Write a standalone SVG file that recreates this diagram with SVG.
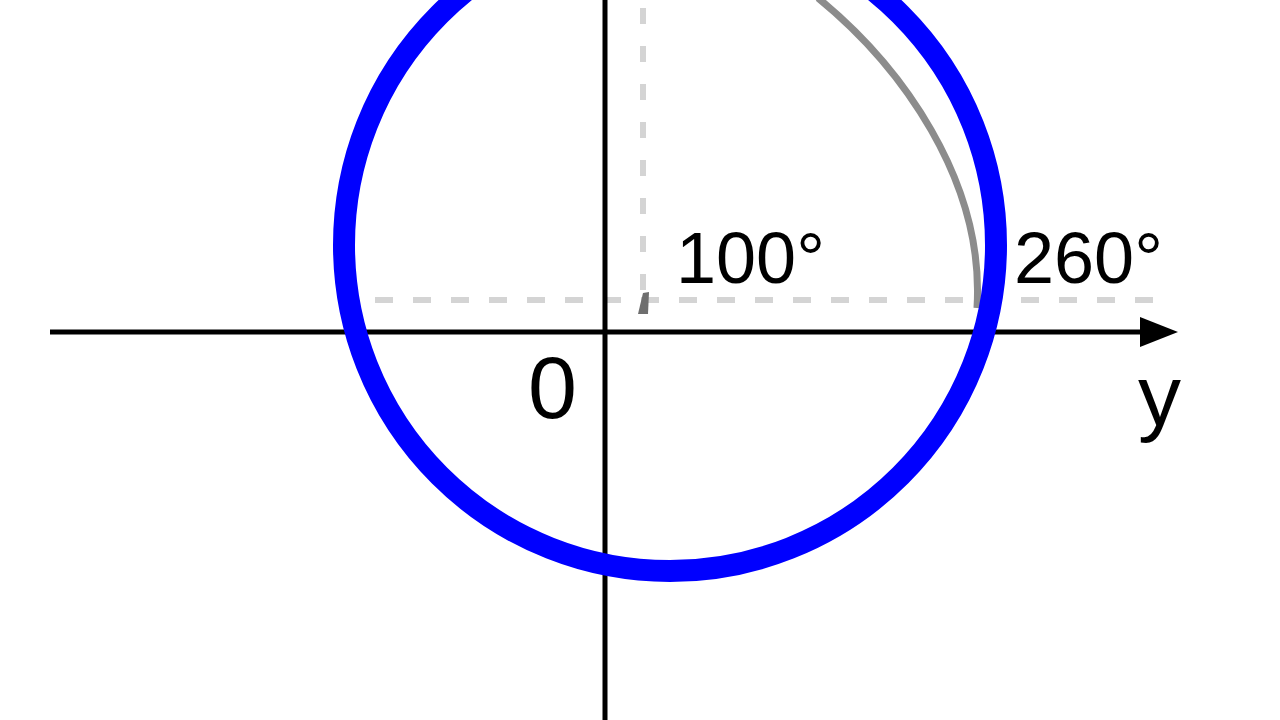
<svg xmlns="http://www.w3.org/2000/svg" width="1280" height="720" viewBox="0 0 1280 720">
<style>
.axis{stroke:#000;stroke-width:5;fill:none}
.dash{stroke:#d4d4d4;stroke-width:6;fill:none;stroke-dasharray:18 20}
.lbl{font-family:"Liberation Sans",Arial,sans-serif;fill:#000}
</style>
<rect width="1280" height="720" fill="#fff"/>
<g id="guides">
<line class="dash" x1="375" y1="300" x2="1160" y2="300"/>
<line class="dash" x1="643" y1="0" x2="643" y2="300" style="stroke-dasharray:16 22" stroke-dashoffset="-8"/>
<path d="M818,-2 C900,65 985,180 977,308" fill="none" stroke="#8c8c8c" stroke-width="7"/>
<path d="M638,314 L648,314 L649,292 L643,293 Z" fill="#6e6e6e"/>
</g>
<g id="axes">
<line class="axis" x1="50" y1="332" x2="1142" y2="332"/>
<polygon points="1140,317 1178,332 1140,347" fill="#000"/>
<line class="axis" x1="605" y1="0" x2="605" y2="720"/>
</g>
<g id="circle">
<circle cx="670" cy="245" r="326" fill="none" stroke="#0000ff" stroke-width="22"/>
</g>
<g id="labels">
<text class="lbl" x="676" y="283" font-size="72">100°</text>
<text class="lbl" x="1014" y="283" font-size="72">260°</text>
<text class="lbl" x="528" y="418" font-size="88">0</text>
<text class="lbl" x="1138" y="425" font-size="86">y</text>
</g>
</svg>
